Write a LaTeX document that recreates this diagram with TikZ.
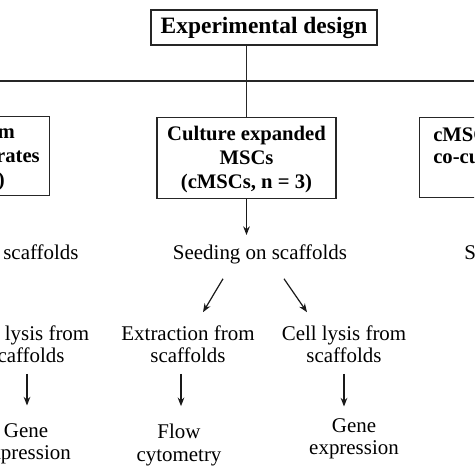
\documentclass[tikz,border=0pt]{standalone}
\usepackage{fontspec}
\setmainfont{Liberation Serif}
\usetikzlibrary{arrows.meta, positioning, calc}

\begin{document}
\begin{tikzpicture}[
    x=0.75pt, y=-0.75pt,
    box/.style={draw=black!85, line width=0.9pt, inner sep=0pt, align=center, font=\fontsize{15.5}{17.8}\selectfont\bfseries},
    btxt/.style={inner sep=0pt, font=\fontsize{15.5}{17.8}\selectfont\bfseries},
    txt/.style={inner sep=0pt, align=center, font=\fontsize{15.7}{16.6}\selectfont},
    arr/.style={-{Stealth[length=6.5pt, width=5pt]}, line width=0.9pt, black!90},
    ln/.style={line width=0.9pt, black!85},
]
\useasboundingbox (0,0) rectangle (474,474);
\fill[white] (0,0) rectangle (474,474);
\clip (0,0) rectangle (474,474);

\node[box, font=\fontsize{17.6}{19}\selectfont\bfseries, minimum width=169.5pt, minimum height=26.25pt] (design) at (264,27.5) {Experimental design};

\node[box, minimum width=150pt, minimum height=59.25pt, anchor=north east] (bm) at (50,116) {};
\node[box, minimum width=134.25pt, minimum height=60.75pt, anchor=north] (cexp) at (246.5,117) {};
\node[box, draw=none, anchor=center] (cexpT) at (246.5,159.5) {Culture expanded\\MSCs\\(cMSCs, n = 3)};
\node[box, minimum width=150pt, minimum height=60pt, anchor=north west] (cc) at (419,117) {};

% text of the cut boxes
\node[btxt, anchor=base east] (bmA) at (15,138) {m};
\node[btxt, anchor=base east] (bmB) at (40,162) {rates};
\node[btxt, anchor=base east] (bmC) at (5,186) {0)};
\node[btxt, anchor=base west] (ccA) at (433,142) {cMSCs};
\node[btxt, anchor=base west] (ccB) at (433,163) {co-culture};

\coordinate (busL) at (0,81);
\coordinate (busR) at (474,81);
\draw[ln] (busL) -- (busR);
\draw[ln] (design.south -| cexp.north) -- (cexp.north);

\node[txt, anchor=base] (seedL) at (-8.5,259) {Seeding on scaffolds};
\node[txt, anchor=base] (seed) at (260,259) {Seeding on scaffolds};
\node[txt, anchor=base] (seedR) at (551.5,259) {Seeding on scaffolds};

\node[txt] (lysisL) at (27,344) {Cell lysis from\\scaffolds};
\node[txt] (extr) at (188,344) {Extraction from\\scaffolds};
\node[txt] (lysis) at (344,344) {Cell lysis from\\scaffolds};

\node[txt] (geneL) at (26,444) {Gene\\expression};
\node[txt] (flow) at (179,445) {Flow\\cytometry};
\node[txt] (gene) at (354,439) {Gene\\expression};

\draw[arr] (cexp.south) -- ($(cexp.south |- seed.north)+(0,-9)$);
\draw[arr] ($(seed.south)+(-37,15)$) -- ($(extr.north)+(15,-13)$);
\draw[arr] ($(seed.south)+(24,15)$) -- ($(lysis.north)+(-37,-13)$);
\draw[arr] ($(lysisL.south)+(0,11)$) -- ($(lysisL.south |- geneL.north)+(0,-18)$);
\draw[arr] ($(flow.north |- extr.south)+(2,11)$) -- ($(flow.north)+(2,-18)$);
\draw[arr] ($(lysis.south)+(0,11)$) -- ($(lysis.south |- gene.north)+(0,-12)$);

\end{tikzpicture}
\end{document}
